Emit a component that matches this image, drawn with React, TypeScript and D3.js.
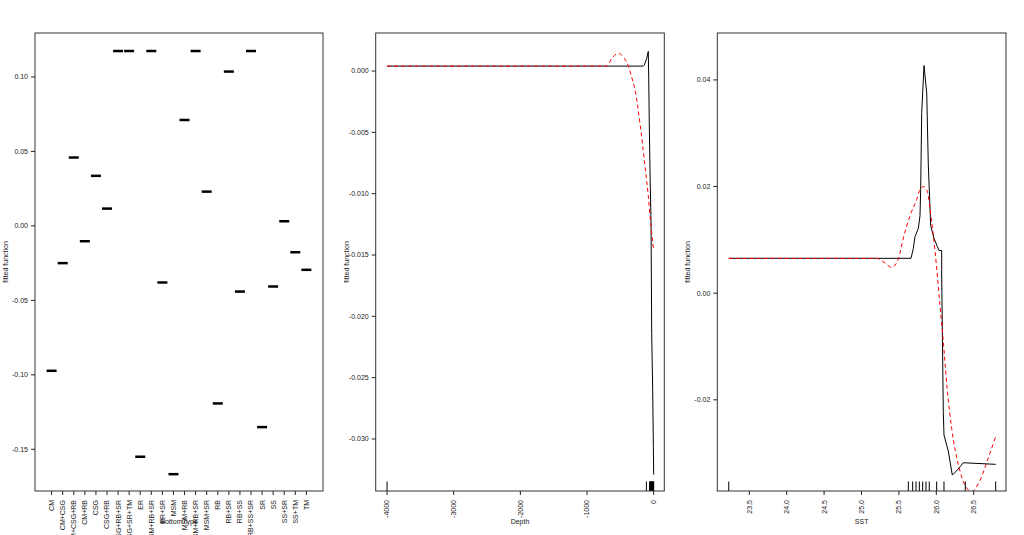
import React from "react";
import * as d3 from "d3";

// ---------- data ----------
const bottomTypes = [
  "CM", "CM+CSG", "CM+CSG+RB", "CM+RB", "CSG", "CSG+RB", "CSG+RB+SR", "CSG+SR+TM",
  "ER", "ER+MSM+RB+SR", "ER+SR", "MSM", "MSM+RB", "MSM+RB+SR", "MSM+SR", "RB",
  "RB+SR", "RB+SS", "RB+SS+SR", "SR", "SS", "SS+SR", "SS+TM", "TM",
];
const bottomTypeEffect = [
  -0.0973, -0.025, 0.0459, -0.0103, 0.0336, 0.0116, 0.1174, 0.1174,
  -0.155, 0.1174, -0.038, -0.1667, 0.0711, 0.1174, 0.023, -0.1192,
  0.1036, -0.0441, 0.1174, -0.1351, -0.0407, 0.0031, -0.0177, -0.0295,
];

const depthFitX = [-4000, -156, -140, -106, -81, -75, -66, -55, -40, -30, -15, -5, 0];
const depthFitY = [0.0004, 0.0004, 0.0005, 0.001, 0.0016, -0.0005, -0.0044, -0.0083, -0.0123, -0.0214, -0.026, -0.0306, -0.0329];
const depthSmoothX = [-4000, -705, -620, -530, -450, -380, -330, -280, -205, -130, -81, -40, 0];
const depthSmoothY = [0.0004, 0.0004, 0.0011, 0.00144, 0.0011, 0.0004, -0.0005, -0.00155, -0.0043, -0.0078, -0.0102, -0.0127, -0.0146];
const depthRug = [-4000, -110, -60, -55, -50, -45, -40, -35, -30, -25, -20, -15, -10, -5, 0];

const sstFitX = [23.225, 25.662, 25.693, 25.715, 25.759, 25.782, 25.791, 25.805, 25.836, 25.872, 25.893, 25.925, 25.969, 26.013, 26.036, 26.072, 26.072, 26.086, 26.094, 26.103, 26.16, 26.214, 26.273, 26.361, 26.794];
const sstFitY = [0.00654, 0.00654, 0.0084, 0.0106, 0.0121, 0.0145, 0.0194, 0.0339, 0.0427, 0.0375, 0.0242, 0.0127, 0.0103, 0.0088, 0.008, 0.008, 0.0036, -0.0133, -0.0224, -0.0266, -0.0296, -0.0341, -0.0333, -0.0318, -0.0321];
const sstSmoothX = [23.225, 25.203, 25.3, 25.404, 25.492, 25.559, 25.648, 25.738, 25.782, 25.826, 25.872, 25.939, 25.983, 26.05, 26.094, 26.147, 26.206, 26.294, 26.384, 26.473, 26.584, 26.695, 26.794];
const sstSmoothY = [0.00654, 0.00654, 0.0058, 0.00485, 0.0064, 0.0103, 0.0145, 0.0176, 0.0194, 0.02, 0.0194, 0.0133, 0.0079, -0.0024, -0.0091, -0.0182, -0.0254, -0.0321, -0.036, -0.0372, -0.0351, -0.0309, -0.0269];
const sstRug = [23.225, 25.626, 25.684, 25.729, 25.773, 25.818, 25.862, 25.906, 26.005, 26.103, 26.388, 26.794];

// axis limits (as in the R plot)
const bottomTypeYLim = [-0.178, 0.1295];
const depthXLim = [-4170, 159];
const depthYLim = [-0.03424, 0.0031];
const sstXLim = [23.072, 26.932];
const sstYLim = [-0.0371, 0.0488];

// ---------- layout ----------
const W = 1024;
const H = 535;
const TOP = 33;
const BOTTOM = 491;
const FONT = "'Liberation Sans', Arial, sans-serif";
const FS = 7;
const TXT = "#1a1a1a";

type Pts = [number, number][];
const zip = (a: number[], b: number[]): Pts => a.map((v, i) => [v, b[i]]);

function YAxis({ y, left, ticks, digits }: { y: d3.ScaleLinear<number, number>; left: number; ticks: number[]; digits: number }) {
  return (
    <g>
      {ticks.map((t) => (
        <g key={t}>
          <line x1={left - 4} x2={left} y1={y(t)} y2={y(t)} stroke="#222" />
          <text x={left - 7} y={y(t)} dy="0.35em" textAnchor="end" fontSize={FS} fontFamily={FONT} fill={TXT}>
            {t.toFixed(digits)}
          </text>
        </g>
      ))}
      <text
        transform={`translate(${left - 29.5},${(TOP + BOTTOM) / 2}) rotate(-90)`}
        textAnchor="middle"
        dy="0.35em"
        fontSize={FS}
        fontFamily={FONT}
        fill={TXT}
      >
        fitted function
      </text>
    </g>
  );
}

function XAxisNum({ x, ticks, labels, title }: { x: (v: number) => number; ticks: number[]; labels: string[]; title: string }) {
  return (
    <g>
      {ticks.map((t, i) => (
        <g key={i}>
          <line x1={x(t)} x2={x(t)} y1={BOTTOM} y2={BOTTOM + 4} stroke="#222" />
          <text
            transform={`translate(${x(t)},${BOTTOM + 9}) rotate(-90)`}
            textAnchor="end"
            dy="0.35em"
            fontSize={FS}
            fontFamily={FONT}
            fill={TXT}
          >
            {labels[i]}
          </text>
        </g>
      ))}
    </g>
  );
}

export default function App() {
  // ----- panel 1: BottomType -----
  const p1 = { l: 35, r: 323 };
  const x1 = d3.scaleLinear().domain([-0.5, 25.5]).range([p1.l, p1.r]);
  const y1 = d3.scaleLinear().domain(bottomTypeYLim).range([BOTTOM, TOP]);

  // ----- panel 2: Depth -----
  const p2 = { l: 375.7, r: 664.3 };
  const x2 = d3.scaleLinear().domain(depthXLim).range([p2.l, p2.r]);
  const y2 = d3.scaleLinear().domain(depthYLim).range([BOTTOM, TOP]);
  const lineD = d3.line<[number, number]>().x((d) => x2(d[0])).y((d) => y2(d[1]));
  const smoothD = d3
    .line<[number, number]>()
    .x((d) => x2(d[0]))
    .y((d) => y2(d[1]))
    .curve(d3.curveMonotoneX);

  // ----- panel 3: SST -----
  const p3 = { l: 717.3, r: 1006 };
  const x3 = d3.scaleLinear().domain(sstXLim).range([p3.l, p3.r]);
  const y3 = d3.scaleLinear().domain(sstYLim).range([BOTTOM, TOP]);
  const lineS = d3.line<[number, number]>().x((d) => x3(d[0])).y((d) => y3(d[1]));
  const smoothS = d3
    .line<[number, number]>()
    .x((d) => x3(d[0]))
    .y((d) => y3(d[1]))
    .curve(d3.curveMonotoneX);

  const rugLen = 9.5;

  const depthTicks = x2.ticks(5);
  const sstTicks = x3.ticks(7);

  return (
    <svg
      width={W}
      height={H}
      viewBox={`0 0 ${W} ${H}`}
      style={{ position: "absolute", left: 0, top: 0, display: "block", background: "#fff" }}
    >
      <defs>
        <clipPath id="c2">
          <rect x={p2.l} y={TOP} width={p2.r - p2.l} height={BOTTOM - TOP} />
        </clipPath>
        <clipPath id="c3">
          <rect x={p3.l} y={TOP} width={p3.r - p3.l} height={BOTTOM - TOP} />
        </clipPath>
      </defs>
      <rect x={0} y={0} width={W} height={H} fill="#fff" />

      {/* ===== Panel 1 ===== */}
      <g>
        {bottomTypes.map((c, i) => (
          <line
            key={c}
            x1={x1(i + 1) - 5}
            x2={x1(i + 1) + 5}
            y1={y1(bottomTypeEffect[i])}
            y2={y1(bottomTypeEffect[i])}
            stroke="#000"
            strokeWidth={2.5}
          />
        ))}
        <rect x={p1.l} y={TOP} width={p1.r - p1.l} height={BOTTOM - TOP} fill="none" stroke="#333" />
        <YAxis y={y1} left={p1.l} ticks={y1.ticks(5)} digits={2} />
        {bottomTypes.map((c, i) => (
          <g key={c}>
            <line x1={x1(i + 1)} x2={x1(i + 1)} y1={BOTTOM} y2={BOTTOM + 4} stroke="#222" />
            <text
              transform={`translate(${x1(i + 1)},${BOTTOM + 9}) rotate(-90)`}
              textAnchor="end"
              dy="0.35em"
              fontSize={FS}
              fontFamily={FONT}
              fill={TXT}
            >
              {c}
            </text>
          </g>
        ))}
        <text x={(p1.l + p1.r) / 2} y={523.5} textAnchor="middle" fontSize={FS} fontFamily={FONT} fill={TXT}>
          BottomType
        </text>
      </g>

      {/* ===== Panel 2 ===== */}
      <g>
        <g clipPath="url(#c2)">
          <path d={lineD(zip(depthFitX, depthFitY)) || ""} fill="none" stroke="#000" strokeWidth={1} />
          <path
            d={smoothD(zip(depthSmoothX, depthSmoothY)) || ""}
            fill="none"
            stroke="#ff0000"
            strokeWidth={1}
            strokeDasharray="4,3"
          />
        </g>
        {depthRug.map((v, i) => (
          <line key={i} x1={x2(v)} x2={x2(v)} y1={BOTTOM} y2={BOTTOM - rugLen} stroke="#000" strokeWidth={1} />
        ))}
        <rect x={p2.l} y={TOP} width={p2.r - p2.l} height={BOTTOM - TOP} fill="none" stroke="#333" />
        <YAxis y={y2} left={p2.l} ticks={y2.ticks(7)} digits={3} />
        <XAxisNum x={x2} ticks={depthTicks} labels={depthTicks.map((t) => t.toFixed(0))} title="Depth" />
        <text x={(p2.l + p2.r) / 2} y={523.5} textAnchor="middle" fontSize={FS} fontFamily={FONT} fill={TXT}>
          Depth
        </text>
      </g>

      {/* ===== Panel 3 ===== */}
      <g>
        <g clipPath="url(#c3)">
          <path d={lineS(zip(sstFitX, sstFitY)) || ""} fill="none" stroke="#000" strokeWidth={1} />
          <path
            d={smoothS(zip(sstSmoothX, sstSmoothY)) || ""}
            fill="none"
            stroke="#ff0000"
            strokeWidth={1}
            strokeDasharray="4,3"
          />
        </g>
        {sstRug.map((v, i) => (
          <line key={i} x1={x3(v)} x2={x3(v)} y1={BOTTOM} y2={BOTTOM - rugLen} stroke="#000" strokeWidth={1} />
        ))}
        <rect x={p3.l} y={TOP} width={p3.r - p3.l} height={BOTTOM - TOP} fill="none" stroke="#333" />
        <YAxis y={y3} left={p3.l} ticks={y3.ticks(5)} digits={2} />
        <XAxisNum x={x3} ticks={sstTicks} labels={sstTicks.map((t) => t.toFixed(1))} title="SST" />
        <text x={(p3.l + p3.r) / 2} y={523.5} textAnchor="middle" fontSize={FS} fontFamily={FONT} fill={TXT}>
          SST
        </text>
      </g>
    </svg>
  );
}
